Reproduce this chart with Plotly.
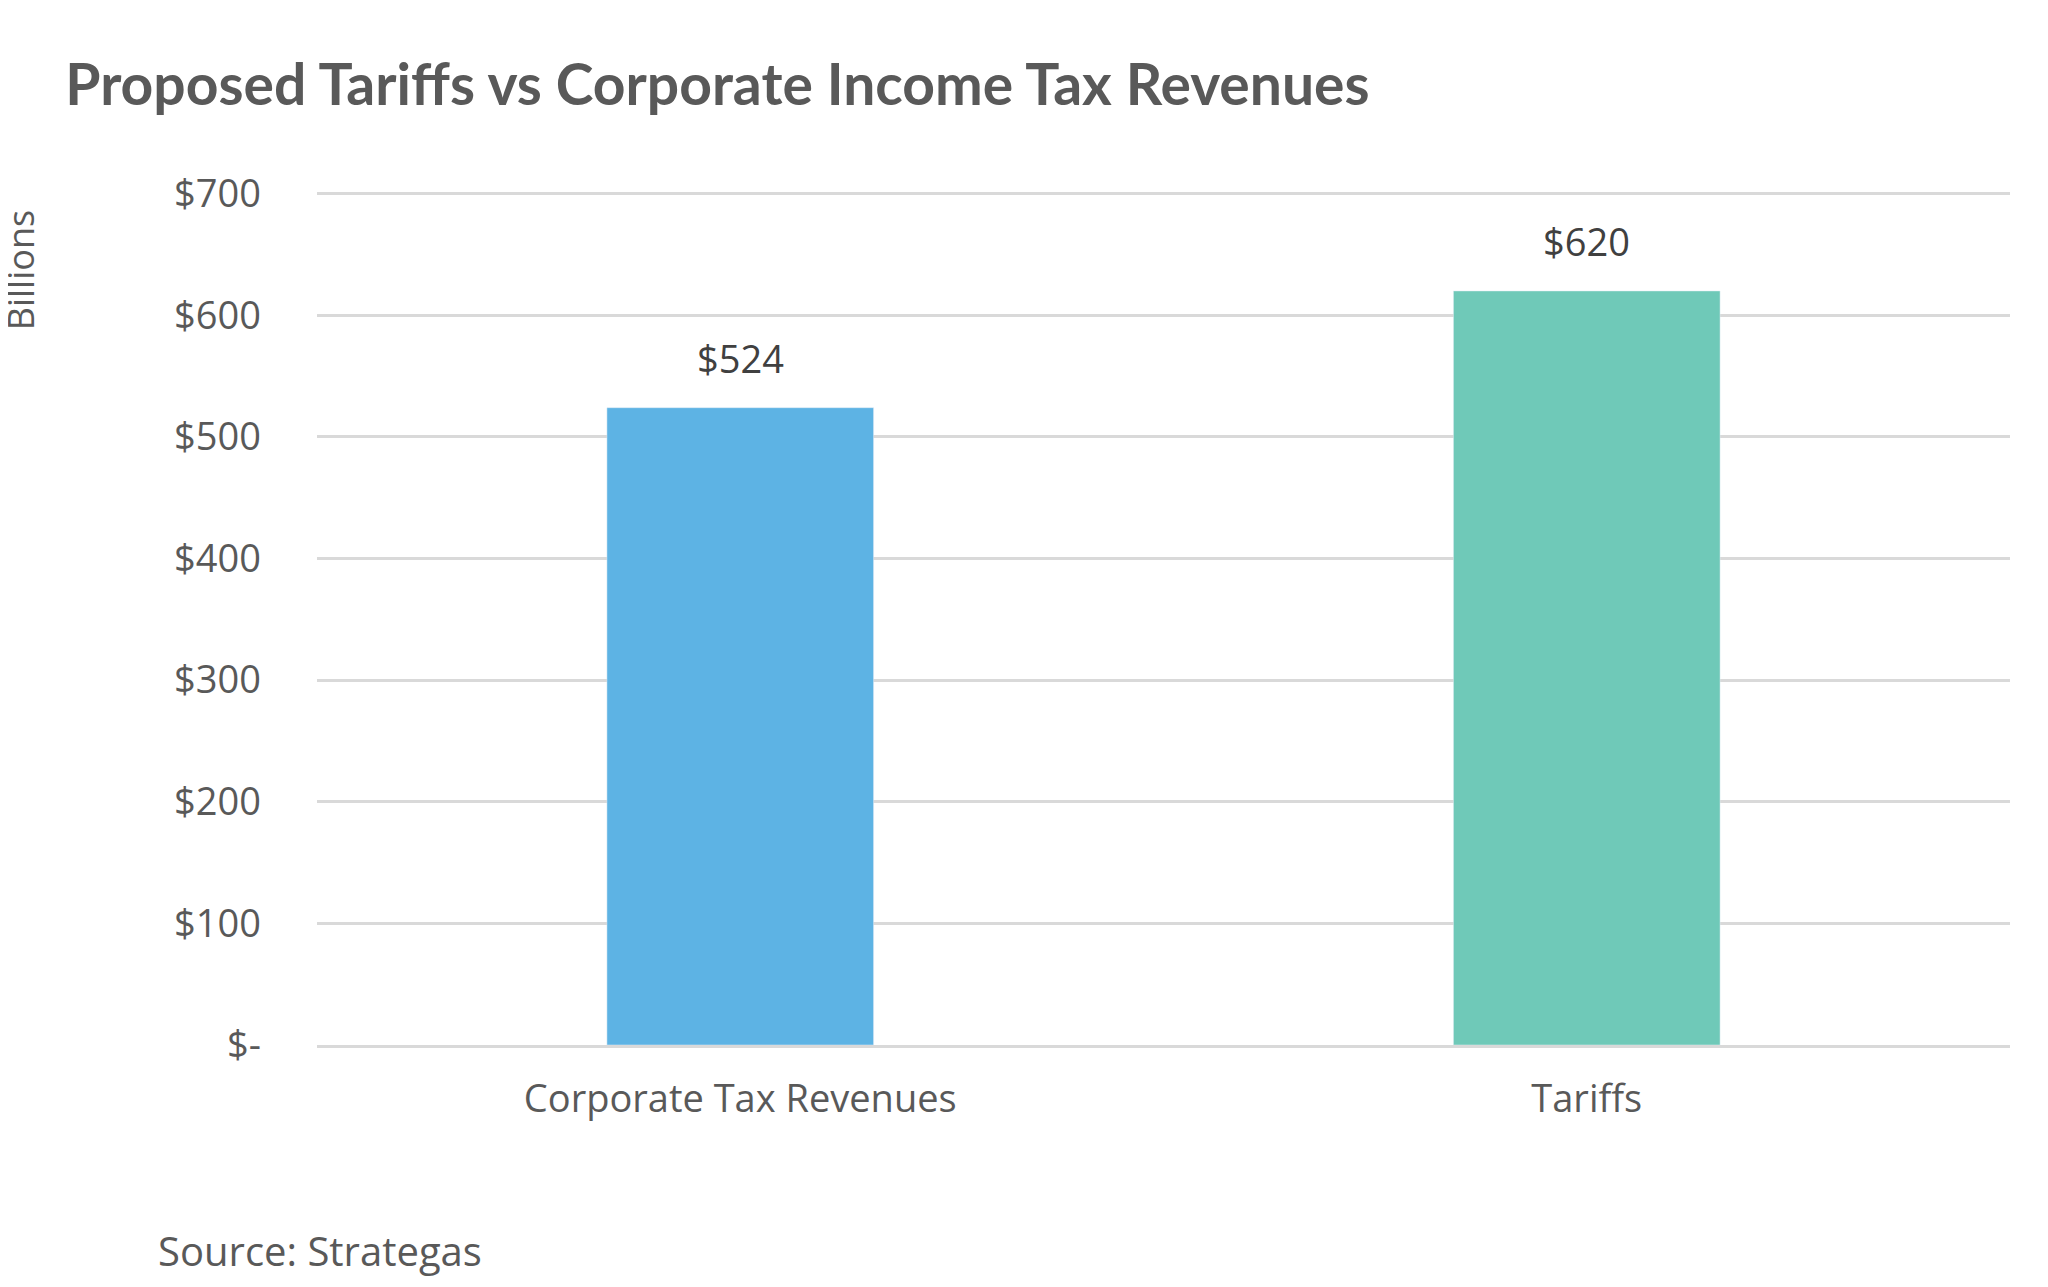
import plotly.graph_objects as go

categories = ["Corporate Tax Revenues", "Tariffs"]
values = [524, 620]
labels = ["$524", "$620"]
colors = ["#5DB3E4", "#6FC9B8"]
tick_vals = [0, 100, 200, 300, 400, 500, 600, 700]
tick_text = ["$-", "$100", "$200", "$300", "$400", "$500", "$600", "$700"]

fig = go.Figure(go.Bar(
    x=categories, y=values, marker_color=colors, width=0.315,
))
for c, v, t in zip(categories, values, labels):
    fig.add_annotation(x=c, y=v, text=t, showarrow=False, yanchor="bottom", yshift=22,
                       font=dict(family="Open Sans", size=38, color="#404040"))
fig.update_layout(
    width=2048, height=1287, plot_bgcolor="white", paper_bgcolor="white",
    margin=dict(l=309, r=46, t=182, b=250),
    title=dict(text="<b>Proposed Tariffs vs Corporate Income Tax Revenues</b>",
               x=0.028, xanchor="left", y=0.94, yanchor="middle",
               font=dict(family="Lato", size=57, color="#595959")),
    font=dict(family="Open Sans", color="#595959"),
    showlegend=False,
)
fig.update_yaxes(range=[0, 703], tickvals=tick_vals, ticktext=tick_text,
                 gridcolor="#D9D9D9", gridwidth=3, zeroline=False,
                 tickfont=dict(size=38, color="#595959"), ticklabelstandoff=55)
fig.add_annotation(text="Billions", xref="paper", yref="paper", x=-0.175, y=0.98,
                   xanchor="center", yanchor="top", textangle=-90, showarrow=False,
                   font=dict(family="Open Sans", size=36, color="#595959"))
fig.update_xaxes(tickfont=dict(size=38, color="#595959"), showline=True,
                 linecolor="#D9D9D9", linewidth=3, ticklabelstandoff=18)
fig.add_annotation(text="Source: Strategas", xref="paper", yref="paper",
                   x=-0.095, y=-0.24, xanchor="left", yanchor="middle", showarrow=False,
                   font=dict(family="Open Sans", size=40, color="#595959"))
fig.write_html("out.html")
